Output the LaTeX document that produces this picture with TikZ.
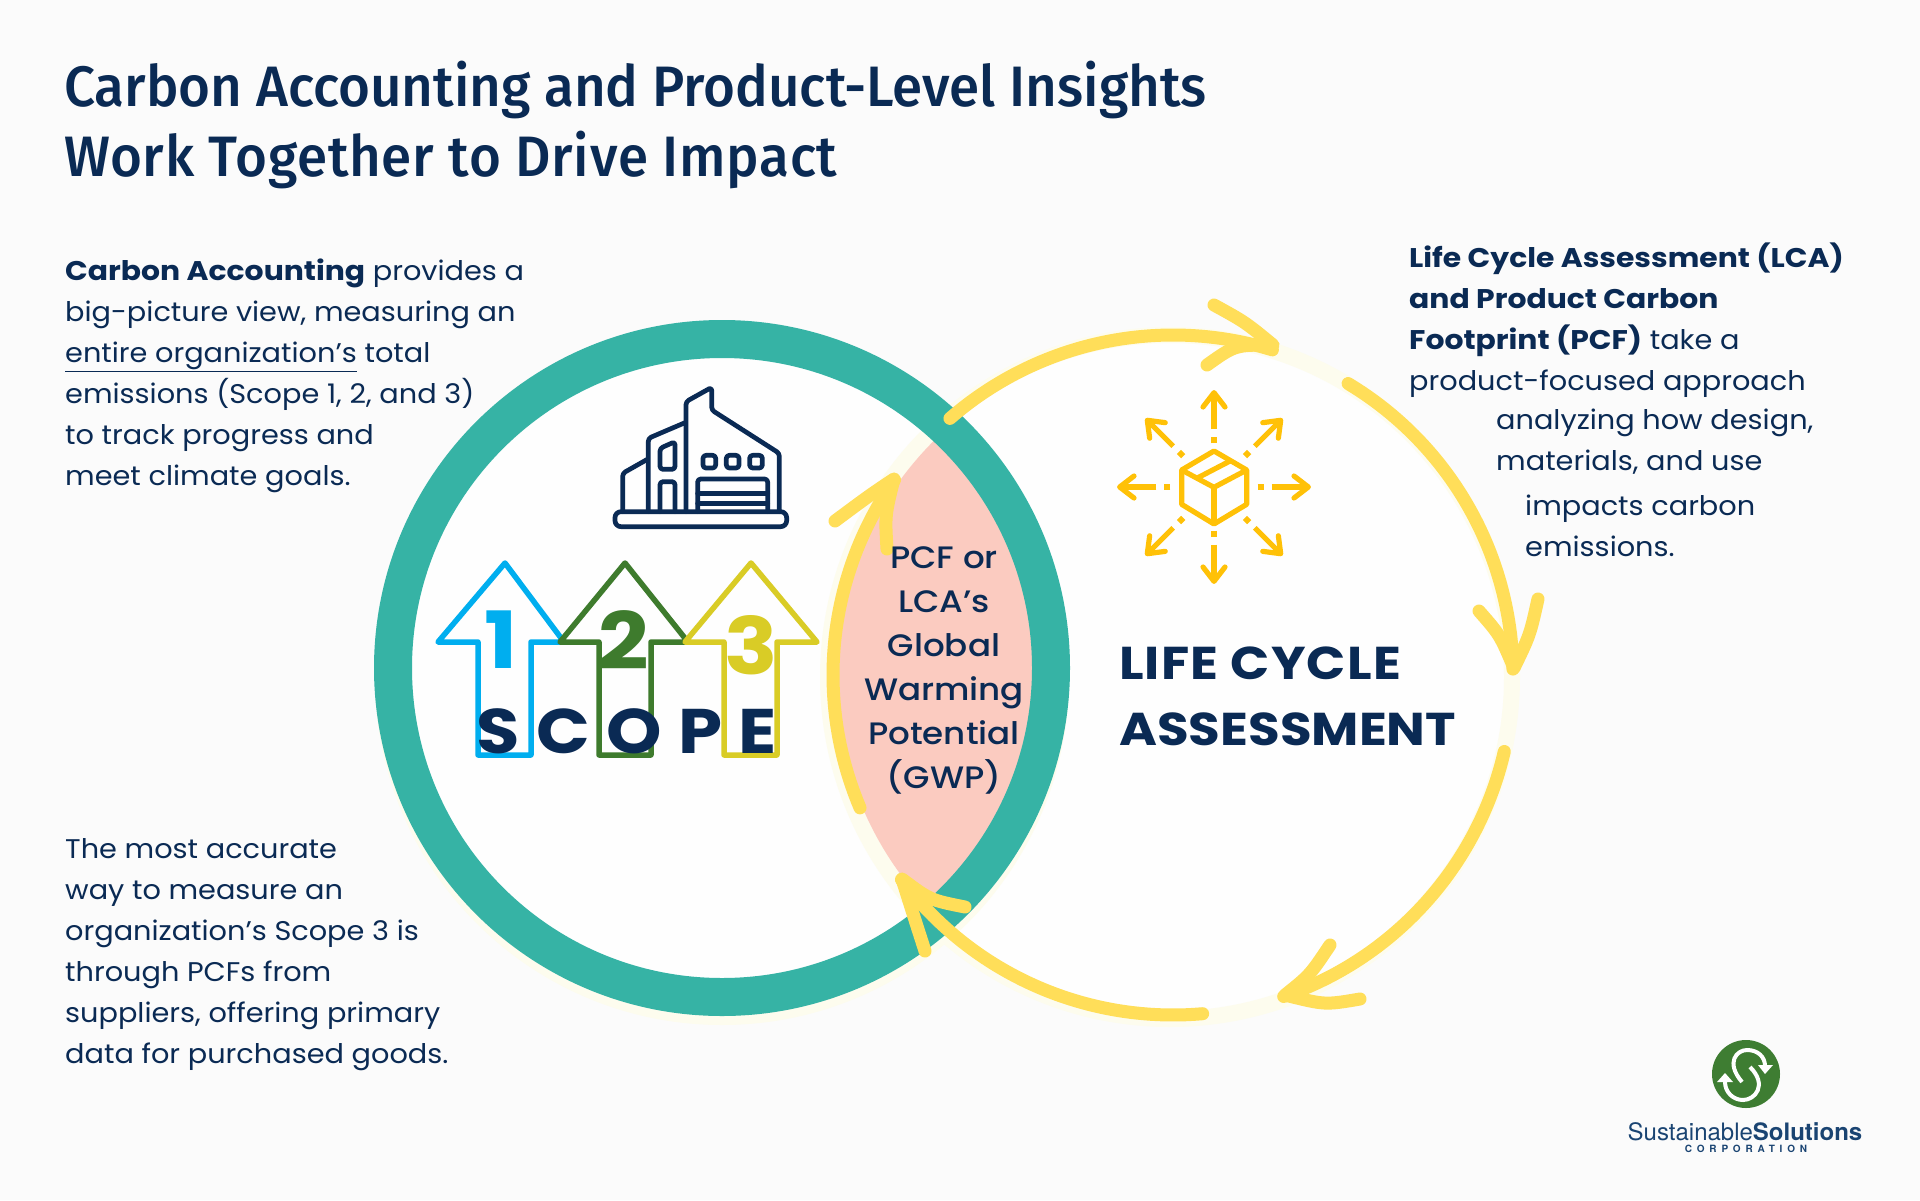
\documentclass[tikz,border=0pt]{standalone}
\usepackage{fontspec}
\setmainfont{Poppins}[FakeStretch=1.065,BoldFeatures={FakeStretch=1.105}]
\newfontfamily\titlefont{Fira Sans Medium}[FakeStretch=0.96]
\newfontfamily\widefont{Poppins}[FakeStretch=1.12]
\newfontfamily\lensfont{Poppins Medium}[FakeStretch=1.1]
\newfontfamily\logofont{TeX Gyre Heros}
\definecolor{navy}{HTML}{0A2A54}
\definecolor{teal2}{HTML}{36B3A5}
\definecolor{pinklens}{HTML}{FBCBC0}
\definecolor{paleyellow}{HTML}{FDFCEE}
\definecolor{marker}{HTML}{FFDE59}
\definecolor{amber}{HTML}{FFC107}
\definecolor{bluescope}{HTML}{00AEEF}
\definecolor{greenscope}{HTML}{3E7B2D}
\definecolor{yellowscope}{HTML}{D9CC26}
\definecolor{pagebg}{HTML}{FBFBFB}
\definecolor{inside}{HTML}{FEFEFE}
\definecolor{logogreen}{HTML}{3E7D32}
\definecolor{logoblue}{HTML}{1A4472}
\tikzset{
    bodytext/.style={anchor=west,align=left,inner sep=0pt,text=navy,font=\fontsize{27}{41}\selectfont},
    titletext/.style={anchor=west,align=left,inner sep=0pt,text=navy,font=\titlefont\fontsize{57}{70}\selectfont},
    lenstext/.style={align=center,inner sep=0pt,text=navy,font=\lensfont\fontsize{31}{44}\selectfont},
    markerline/.style={draw=marker,line width=13pt,line cap=round,line join=round},
    scopearrow/.style={line width=5.5pt,line join=round},
    iconline/.style={draw=navy,line width=4.7pt,line join=round,line cap=round},
    amberline/.style={draw=amber,line width=5.2pt,line join=round},
}
% one stretch of the yellow ring, angles measured from the ring centre
\newcommand{\ringarc}[2]{\draw[markerline] plot[domain=#1:#2,samples=40,smooth] ({1173+340*cos(\x)},{675-340*sin(\x)});}
\begin{document}
\begin{tikzpicture}[x=1pt,y=-1pt]
    \fill[pagebg] (0,0) rectangle (1920,1200);
    \useasboundingbox (0,0) rectangle (1920,1200);

    % circles
    \draw[paleyellow,line width=16pt,fill=inside] (1170,677) circle (342pt);
    \fill[paleyellow] (722,678) circle (347pt);
    \fill[inside] (722,668) circle (312pt);
    \begin{scope}
        \clip (722,668) circle (312pt);
        \fill[paleyellow] (1170,677) circle (350pt);
        \fill[pinklens] (1170,677) circle (334pt);
    \end{scope}
    \draw[teal2,line width=38pt] (722,668) circle (329pt);

    % building
    \begin{scope}[shift={(590,370)},x=1/3 pt,y=-1/3 pt]
        \draw[iconline,rounded corners=6pt] (75,425) rectangle (590,470);
        \draw[iconline,rounded corners=3pt] (98,425) -- (98,310) -- (172,268);
        \draw[iconline,rounded corners=3pt] (175,425) -- (175,205) -- (285,158);
        \draw[iconline,rounded corners=3pt] (288,425) -- (288,95) -- (365,52) -- (365,120) -- (568,250) -- (568,425);
        \draw[iconline,rounded corners=3pt] (210,235) -- (255,215) -- (255,298) -- (210,298) -- cycle;
        \draw[iconline,rounded corners=3pt] (210,425) -- (210,335) -- (255,335) -- (255,425);
        \foreach \wx in {358,428,498}
            \draw[iconline,rounded corners=3pt] (\wx-19,256) rectangle (\wx+19,294);
        \draw[iconline,rounded corners=3pt] (323,425) -- (323,327) -- (533,327) -- (533,425);
        \draw[iconline] (323,370) -- (533,370);
        \draw[iconline] (323,400) -- (533,400);
    \end{scope}

    % scope arrows
    \draw[scopearrow,bluescope] (505,563) -- (564,642) -- (531,642) -- (531,755) -- (478,755) -- (478,642) -- (438,642) -- cycle;
    \draw[scopearrow,greenscope] (625,563) -- (688,642) -- (651,642) -- (651,755) -- (599,755) -- (599,642) -- (560,642) -- cycle;
    \draw[scopearrow,yellowscope] (751,563) -- (817,642) -- (777,642) -- (777,755) -- (724,755) -- (724,642) -- (685,642) -- cycle;
    \node[text=bluescope,font=\widefont\bfseries\fontsize{79}{79}\selectfont,inner sep=0pt] (one) at (501,640) {1};
    \node[text=greenscope,font=\widefont\bfseries\fontsize{79}{79}\selectfont,inner sep=0pt] (two) at (624,640) {2};
    \node[text=yellowscope,font=\widefont\bfseries\fontsize{79}{79}\selectfont,inner sep=0pt] (three) at (751,645) {3};
    \node[text=navy,font=\widefont\bfseries\addfontfeature{LetterSpace=26}\fontsize{63}{63}\selectfont,inner sep=0pt] (scope) at (627,731) {SCOPE};

    % box with arrows
    \foreach \ang in {0,45,...,315} {
        \begin{scope}[shift={(1214,487)},rotate=\ang,x=1/3 pt,y=1/3 pt]
            \draw[draw=amber,line width=6pt] (131,0) -- (149,0);
            \draw[amberline] (173,0) -- (278,0);
            \draw[amberline,line cap=round] (240,33) -- (283,0) -- (240,-33);
        \end{scope}
    }
    \begin{scope}[shift={(1090,370)},x=1/3 pt,y=-1/3 pt]
        \draw[amberline] (372,243) -- (470,300) -- (470,403) -- (372,462) -- (275,403) -- (275,300) -- cycle;
        \draw[amberline] (275,300) -- (372,352) -- (470,300);
        \draw[amberline] (372,352) -- (372,462);
        \draw[amberline] (322,324) -- (422,272);
    \end{scope}

    % yellow ring, five arrows
    \ringarc{131}{73}
    \draw[markerline] (1214,305) .. controls (1245,322) .. (1273,345) .. controls (1235,345) .. (1207,365);
    \ringarc{59}{1}
    \draw[markerline] (1479,611) .. controls (1500,635) .. (1514,668) .. controls (1530,635) .. (1538,599);
    \ringarc{-13}{-71}
    \draw[markerline] (1330,945) .. controls (1310,975) .. (1285,995) .. controls (1325,1005) .. (1360,999);
    \ringarc{-85}{-143}
    \draw[markerline] (965,907) .. controls (930,900) .. (902,879) .. controls (915,920) .. (925,951);
    \ringarc{203}{145}
    \draw[markerline] (835,521) .. controls (870,495) .. (894,479) .. controls (885,515) .. (887,549);

    % texts
    \node[titletext] (title) at (64,125) {Carbon Accounting and Product-Level Insights\\{\addfontfeature{LetterSpace=1.3}Work Together to Drive Impact}};
    \node[bodytext] (carbon) at (65,376) {\textbf{Carbon Accounting} provides a\\big-picture view, measuring an\\\underline{entire organization’s} total\\emissions (Scope 1, 2, and 3)\\to track progress and\\meet climate goals.};
    \node[bodytext] (accurate) at (65,955) {The most accurate\\way to measure an\\organization’s Scope 3 is\\through PCFs from\\suppliers, offering primary\\data for purchased goods.};
    \node[bodytext] (lca) at (1409,320) {\textbf{Life Cycle Assessment (LCA)}\\\textbf{and Product Carbon}\\\textbf{Footprint (PCF)} take a\\product-focused approach};
    \node[bodytext] (design) at (1496,442) {analyzing how design,\\materials, and use};
    \node[bodytext] (impacts) at (1525,526) {impacts carbon\\emissions.};
    \node[lenstext] (gwp) at (944,670) {PCF or\\LCA’s\\Global\\Warming\\Potential\\(GWP)};
    \node[anchor=west,align=left,inner sep=0pt,text=navy,font=\widefont\bfseries\fontsize{46}{66}\selectfont] (life) at (1119,696) {{\addfontfeature{LetterSpace=2.6}LIFE CYCLE}\\ASSESSMENT};

    % logo
    \fill[logogreen] (1746,1074) circle (34pt);
    \draw[white,line width=4pt] (1742,1082) .. controls (1725,1062) and (1737,1050) .. (1747,1050) .. controls (1758,1050) and (1765,1057) .. (1765,1066);
    \fill[white] (1758,1065) -- (1773,1065) -- (1765,1074) -- cycle;
    \draw[white,line width=4pt] (1750,1067) .. controls (1768,1085) and (1755,1100) .. (1743,1100) .. controls (1733,1100) and (1725,1092) .. (1725,1082);
    \fill[white] (1717,1082) -- (1733,1082) -- (1725,1073) -- cycle;
    \node[inner sep=0pt,text=logoblue,font=\logofont\fontsize{24}{24}\selectfont] (company) at (1745,1132) {Sustainable\textbf{Solutions}};
    \node[inner sep=0pt,text=logoblue,font=\logofont\bfseries\addfontfeature{LetterSpace=48}\fontsize{10}{10}\selectfont] (corp) at (1746,1149) {CORPORATION};
\end{tikzpicture}
\end{document}
